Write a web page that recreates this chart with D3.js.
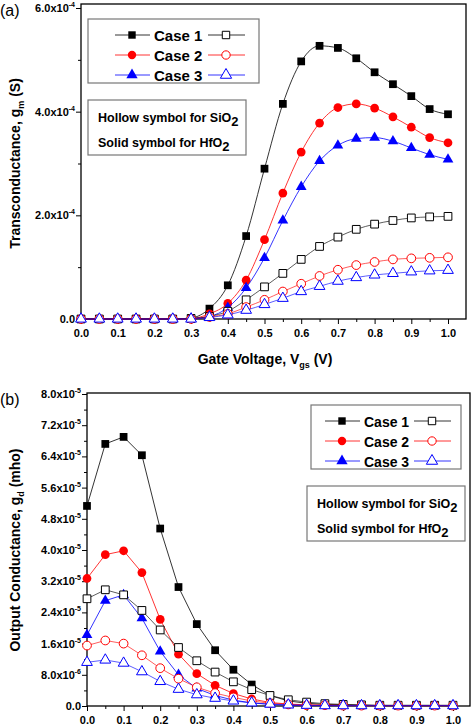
<!DOCTYPE html>
<html><head><meta charset="utf-8">
<script src="https://cdn.jsdelivr.net/npm/d3@7"></script>
<style>
body{margin:0;background:#fff}
text{font-family:"Liberation Sans",Arial,sans-serif}
</style></head>
<body>
<script>
// gate voltage points
var vgs = d3.range(21).map(function(i){ return +(i*0.05).toFixed(2); });

// panel (a) transconductance, units of 1e-4 S
var gm1Hf = [0,0,0,0,0,0,0.02,0.2,0.65,1.6,2.9,4.15,4.97,5.27,5.23,5.03,4.76,4.53,4.3,4.05,3.95];
var gm1Si = [0,0,0,0,0,0,0.01,0.05,0.15,0.37,0.62,0.88,1.15,1.4,1.58,1.73,1.83,1.9,1.95,1.97,1.98];
var gm2Hf = [0,0,0,0,0,0,0.01,0.1,0.3,0.75,1.53,2.43,3.22,3.78,4.08,4.15,4.07,3.9,3.7,3.5,3.4];
var gm2Si = [0,0,0,0,0,0,0,0.04,0.1,0.23,0.37,0.53,0.68,0.83,0.95,1.04,1.1,1.15,1.17,1.18,1.19];
var gm3Hf = [0,0,0,0,0,0,0.01,0.05,0.22,0.6,1.18,1.9,2.55,3.05,3.35,3.48,3.5,3.43,3.3,3.17,3.08];
var gm3Si = [0,0,0,0,0,0,0,0.03,0.08,0.17,0.28,0.4,0.53,0.63,0.73,0.8,0.85,0.88,0.91,0.93,0.94];

// panel (b) output conductance, units of 1e-5 mho
var gd1Hf = [5.13,6.72,6.9,6.43,4.55,3.05,2.1,1.43,0.93,0.55,0.27,0.13,0.07,0.04,0.03,0.02,0.01,0.01,0.01,0.01,0.01];
var gd1Si = [2.75,2.98,2.85,2.45,1.95,1.5,1.16,0.87,0.62,0.42,0.27,0.16,0.1,0.06,0.04,0.03,0.02,0.02,0.02,0.02,0.02];
var gd2Hf = [3.27,3.88,3.98,3.42,2.22,1.33,0.83,0.53,0.32,0.18,0.09,0.05,0.03,0.02,0.02,0.01,0.01,0.01,0.01,0.01,0.01];
var gd2Si = [1.55,1.68,1.6,1.3,0.97,0.7,0.48,0.33,0.22,0.13,0.07,0.04,0.02,0.02,0.01,0.01,0.01,0.01,0.01,0.01,0.01];
var gd3Hf = [1.82,2.7,2.85,2.25,1.4,0.8,0.45,0.27,0.15,0.08,0.04,0.02,0.01,0.01,0.01,0.01,0.01,0.01,0.01,0.01,0.01];
var gd3Si = [1.12,1.18,1.1,0.88,0.63,0.43,0.29,0.2,0.13,0.08,0.05,0.03,0.02,0.01,0.01,0.01,0.01,0.01,0.01,0.01,0.01];

var caseNames = ["Case 1","Case 2","Case 3"];
var caseColors = ["#000000","#ff0000","#0000ff"];
var caseShapes = [d3.symbolSquare, d3.symbolCircle, d3.symbolTriangle];

var svg = d3.select("body").append("svg").attr("width",474).attr("height",728);

function drawPanel(o){
    var g = svg.append("g");
    var x = d3.scaleLinear().domain([0,1]).range([o.x0, o.x1]);
    var y = d3.scaleLinear().domain([0,o.ymax]).range([o.yb, o.yt]);

    // frame
    g.append("rect").attr("x",o.x0).attr("y",o.top).attr("width",o.right-o.x0).attr("height",o.yb-o.top)
        .attr("fill","none").attr("stroke","#000").attr("stroke-width",1.3);

    // x axis
    var xa = g.append("g").attr("transform","translate(0,"+o.yb+")")
        .call(d3.axisBottom(x).tickValues(d3.range(11).map(function(i){return i/10;})).tickFormat(d3.format(".1f")).tickSize(5));
    g.append("g").attr("transform","translate(0,"+o.yb+")")
        .call(d3.axisBottom(x).tickValues(d3.range(10).map(function(i){return i/10+0.05;})).tickFormat("").tickSize(3))
        .select(".domain").remove();
    xa.select(".domain").remove();
    xa.selectAll("text").attr("font-size",11).attr("font-weight","bold").attr("dy","0.9em");

    // y axis
    var ya = g.append("g").attr("transform","translate("+o.x0+",0)")
        .call(d3.axisLeft(y).tickValues(o.major).tickFormat("").tickSize(5));
    ya.select(".domain").remove();
    g.append("g").attr("transform","translate("+o.x0+",0)")
        .call(d3.axisLeft(y).tickValues(o.minor).tickFormat("").tickSize(3))
        .select(".domain").remove();
    o.major.forEach(function(v){
        var t = g.append("text").attr("x",o.x0-6).attr("y",y(v)+4).attr("text-anchor","end")
            .attr("font-size",11).attr("font-weight","bold");
        if(v===0){ t.text("0.0"); return; }
        var val = v, e = o.exp;
        if(val<1){ val*=10; e--; }
        t.append("tspan").text(val.toFixed(1)+"x10");
        t.append("tspan").attr("font-size",7).attr("dy",-5).text(e);
    });

    // curves
    var line = d3.line().x(function(d){return x(d[0]);}).y(function(d){return y(d[1]);}).curve(o.curve);
    o.series.forEach(function(s,i){
        var c = caseColors[i%3], solid = i<3;
        var pts = vgs.map(function(v,k){return [v,s[k]];});
        g.append("path").attr("d",line(pts)).attr("fill","none").attr("stroke",c).attr("stroke-width",0.8).attr("opacity",solid?1:0.8);
        g.selectAll(null).data(pts).enter().append("path")
            .attr("transform",function(d){return "translate("+x(d[0])+","+y(d[1])+")";})
            .attr("d",d3.symbol().type(caseShapes[i%3]).size(i%3==2?50:60))
            .attr("fill",solid?c:"#fff").attr("stroke",c).attr("stroke-width",solid?0:1);
    });

    // legend
    var L = o.leg;
    g.append("rect").attr("x",L.x).attr("y",L.y).attr("width",L.w).attr("height",64)
        .attr("fill","#fff").attr("stroke","#777").attr("stroke-width",1.2);
    caseNames.forEach(function(n,i){
        var yy = L.y+16+i*20, c = caseColors[i];
        g.append("line").attr("x1",L.x+L.l1).attr("x2",L.x+L.l1+35).attr("y1",yy).attr("y2",yy).attr("stroke",c).attr("stroke-width",0.8);
        g.append("path").attr("transform","translate("+(L.x+L.l1+17)+","+yy+")").attr("d",d3.symbol().type(caseShapes[i]).size(55)).attr("fill",c);
        g.append("text").attr("x",L.x+L.t).attr("y",yy+6).attr("font-size",L.fs).attr("font-weight","bold").text(n);
        g.append("line").attr("x1",L.x+L.tx).attr("x2",L.x+L.tx+37).attr("y1",yy).attr("y2",yy).attr("stroke",c).attr("stroke-width",0.8);
        g.append("path").attr("transform","translate("+(L.x+L.tx+18)+","+yy+")").attr("d",d3.symbol().type(caseShapes[i]).size(55))
            .attr("fill","#fff").attr("stroke",c);
    });
    var N = o.note;
    g.append("rect").attr("x",N.x).attr("y",N.y).attr("width",N.w).attr("height",55)
        .attr("fill","#fff").attr("stroke","#777").attr("stroke-width",1.2);
    [["Hollow symbol for SiO","2"],["Solid symbol for HfO","2"]].forEach(function(t,i){
        var tx = g.append("text").attr("x",N.x+10).attr("y",N.y+22+i*25).attr("font-size",12.5).attr("font-weight","bold");
        tx.append("tspan").text(t[0]);
        tx.append("tspan").attr("dy",4).attr("font-size",13).text(t[1]);
    });

    // titles
    var yt = g.append("text").attr("transform","translate("+o.ytx+","+((o.yt+o.yb)/2)+") rotate(-90)")
        .attr("text-anchor","middle").attr("font-size",14).attr("font-weight","bold");
    yt.append("tspan").text(o.ylab[0]);
    yt.append("tspan").attr("font-size",9).attr("dy",4).text(o.ylab[1]);
    yt.append("tspan").attr("dy",-4).text(o.ylab[2]);
    g.append("text").attr("x",0).attr("y",o.top+12).attr("font-family","Liberation Serif,serif").attr("font-size",16).text(o.tag);
}

drawPanel({x0:81,x1:448,right:466,top:4,yt:8,yb:319,ymax:6,exp:-4,
    major:[0,2,4,6],minor:[1,3,5],curve:d3.curveMonotoneX,
    series:[gm1Hf,gm2Hf,gm3Hf,gm1Si,gm2Si,gm3Si],
    leg:{x:88,y:19,w:171,l1:27,t:66,tx:120,fs:15},note:{x:88,y:100,w:158},
    ytx:20,ylab:["Transconductance, g","m"," (S)"],tag:"(a)"});

// x title for panel (a)
var xt = svg.append("text").attr("x",265).attr("y",364).attr("text-anchor","middle").attr("font-size",14).attr("font-weight","bold");
xt.append("tspan").text("Gate Voltage, V");
xt.append("tspan").attr("font-size",9).attr("dy",4).text("gs");
xt.append("tspan").attr("dy",-4).text(" (V)");

drawPanel({x0:87,x1:453,right:470,top:393,yt:394,yb:706,ymax:8,exp:-5,
    major:[0,0.8,1.6,2.4,3.2,4.0,4.8,5.6,6.4,7.2,8.0],minor:[0.4,1.2,2.0,2.8,3.6,4.4,5.2,6.0,6.8,7.6],curve:d3.curveLinear,
    series:[gd1Hf,gd2Hf,gd3Hf,gd1Si,gd2Si,gd3Si],
    leg:{x:311,y:405,w:150,l1:14,t:53,tx:103,fs:14},note:{x:307,y:486,w:158},
    ytx:20,ylab:["Output Conductance, g","d"," (mho)"],tag:"(b)"});
</script>
</body></html>
